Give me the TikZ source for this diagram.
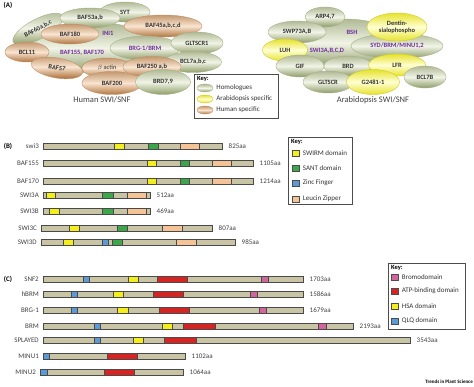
\documentclass[tikz,border=0pt]{standalone}
\usepackage{fontspec}
\setmainfont{Carlito}
\usepackage{xcolor}
\usepackage{tikz}
\usetikzlibrary{positioning,shapes.geometric}

\definecolor{homdark}{HTML}{8E9C68}
\definecolor{homlight}{HTML}{F1F4E6}
\definecolor{humdark}{HTML}{B07640}
\definecolor{humlight}{HTML}{F9E4D0}
\definecolor{athdark}{HTML}{E6E22C}
\definecolor{athlight}{HTML}{FFFFD4}
\definecolor{barfill}{HTML}{C9C4A4}
\definecolor{barline}{HTML}{4A4A4A}
\definecolor{swirm}{HTML}{F4EF1B}
\definecolor{sant}{HTML}{3BA64A}
\definecolor{zinc}{HTML}{5B9BD5}
\definecolor{leucin}{HTML}{F5C396}
\definecolor{bromo}{HTML}{D2649F}
\definecolor{atp}{HTML}{D42424}
\definecolor{subunit}{HTML}{7030A0}

\begin{document}
\begin{tikzpicture}[
  x=1pt, y=-1pt, font=\fontsize{7}{8}\selectfont,
  sub/.style={ellipse, inner sep=0pt, font=\fontsize{6.5}{7}\selectfont\bfseries, text=black!80},
  hom/.style={sub, draw=homdark!80, top color=homdark!70, bottom color=homdark, middle color=homlight},
  hum/.style={sub, draw=humdark!80, top color=humdark!75, bottom color=humdark, middle color=humlight},
  ath/.style={sub, draw=athdark!90!black, top color=athdark, bottom color=athdark, middle color=athlight},
  purp/.style={font=\fontsize{6.5}{7}\selectfont\bfseries, text=subunit},
  panel/.style={font=\fontsize{7}{8}\selectfont\bfseries},
  title/.style={font=\fontsize{8.5}{9}\selectfont, text=black!75},
  bar/.style={draw=barline, fill=barfill, line width=.5pt, anchor=west, inner sep=0pt, minimum height=6pt},
  dom/.style={draw=barline, line width=.5pt, anchor=west, inner sep=0pt, minimum height=6pt},
  lbl/.style={text=black!75, inner sep=0pt},
  keybox/.style={draw=black!70, line width=.5pt, anchor=north west, inner sep=0pt},
  keyhd/.style={font=\fontsize{6.5}{7}\selectfont\bfseries, inner sep=0pt},
  keytxt/.style={text=black!80, inner sep=0pt},
  swatch/.style={draw=black!70, line width=.4pt, inner sep=0pt, minimum width=7pt, minimum height=5.5pt}
]
\useasboundingbox (0,0) rectangle (474,386);

% (A) human complex
\node[panel] (pA) at (8,5) {(A)};
\node[hom, minimum width=125, minimum height=50] (hbg) at (97,48) {};
\node[hom, minimum width=56, minimum height=20, rotate=28] (baf60) at (38,29) {BAF60a,b,c};
\node[hom, minimum width=50, minimum height=20] (syt) at (125,12) {SYT};
\node[hom, minimum width=60, minimum height=20] (baf53) at (90,18) {BAF53a,b};
\node[hum, minimum width=58, minimum height=20] (baf180) at (70,34) {BAF180};
\node[hum, minimum width=44, minimum height=20] (bcl11) at (27,52) {BCL11};
\node[hum, minimum width=78, minimum height=22] (baf45) at (163,26) {BAF45a,b,c,d};
\node[hom, minimum width=70, minimum height=24, text=subunit] (brg1) at (145,48) {BRG-1/BRM};
\node[hom, minimum width=52, minimum height=22] (gltscr1) at (197,43) {GLTSCR1};
\node[hom, minimum width=57, minimum height=21] (bcl7) at (193,62) {BCL7a,b,c};
\node[hum, minimum width=52, minimum height=20, rotate=-10] (baf57) at (57,68) {BAF57};
\node[hum, minimum width=50, minimum height=20, font=\fontsize{6.5}{7}\selectfont] (actin) at (107,68) {$\beta$ actin};
\node[hum, minimum width=58, minimum height=21] (baf250) at (152,67) {BAF250 a,b};
\node[hum, minimum width=60, minimum height=23] (baf200) at (112,83) {BAF200};
\node[hom, minimum width=55, minimum height=25] (brd79) at (163,82) {BRD7,9};
\node[purp] (ini1) at (108,33) {INI1};
\node[purp] (baf155t) at (82,53) {BAF155, BAF170};
\node[title] (hT) at (102,100) {Human SWI/SNF};

% key for (A)
\node[keybox, minimum width=84, minimum height=44] (keyA) at (194,74) {};
\node[keyhd, below right=2pt and 3pt of keyA.north west] (kAh) {Key:};
\node[hom, minimum width=16, minimum height=8] (ka1) at (205,88) {};
\node[ath, minimum width=16, minimum height=8] (ka2) at (205,99) {};
\node[hum, minimum width=16, minimum height=8] (ka3) at (205,110) {};
\node[keytxt, right=3pt of ka1] (ka1t) {Homologues};
\node[keytxt, right=3pt of ka2] (ka2t) {Arabidopsis specific};
\node[keytxt, right=3pt of ka3] (ka3t) {Human specific};

% (A) Arabidopsis complex
\node[hom, minimum width=110, minimum height=48] (abg) at (345,43) {};
\node[hom, minimum width=40, minimum height=20] (arp) at (325,17) {ARP4,7};
\node[hom, minimum width=58, minimum height=22] (swp73) at (297,32) {SWP73A,B};
\node[hom, minimum width=92, minimum height=25, text=subunit] (syd) at (397,46) {SYD/BRM/MINU1,2};
\node[ath, minimum width=60, minimum height=28, align=center] (dentin) at (397,27) {Dentin-\\sialophospho};
\node[ath, minimum width=45, minimum height=22] (luh) at (285,50) {LUH};
\node[hom, minimum width=48, minimum height=22] (gif) at (300,66) {GIF};
\node[hom, minimum width=48, minimum height=20] (brd) at (348,66) {BRD};
\node[ath, minimum width=57, minimum height=22] (lfr) at (397,65) {LFR};
\node[hom, minimum width=42, minimum height=22] (bcl7b) at (425,77) {BCL7B};
\node[hom, minimum width=50, minimum height=22] (gltscr) at (328,82) {GLTSCR};
\node[ath, minimum width=53, minimum height=25] (g2481) at (373,82) {G2481-1};
\node[purp] (bsh) at (352,32) {BSH};
\node[purp] (swi3t) at (327,51) {SWI3A,B,C,D};
\node[title] (aT) at (373,100) {Arabidopsis SWI/SNF};

% (B) SWI3 proteins
\node[panel] (pB) at (8,146) {(B)};
\foreach \nm/\xa/\xb/\y/\txt/\aa in {b1/43/222/146/swi3/825aa, b2/43/253/163/BAF155/1105aa,
    b3/43/253/181/BAF170/1214aa, b4/43/150/195/SWI3A/512aa, b5/43/150/211/SWI3B/469aa,
    b6/41/212/228/SWI3C/807aa, b7/41/235/242/SWI3D/985aa} {
  \node[bar, minimum width={\xb-\xa}] (\nm) at (\xa,\y) {};
  \node[lbl, left=4pt of \nm] (\nm-l) {\txt};
  \node[lbl, right=6pt of \nm] (\nm-r) {\aa};
}
\foreach \xa/\xb/\y/\c [count=\i] in {114/124/146/swirm, 148/158/146/sant, 180/199/146/leucin,
    147/156/163/swirm, 180/189/163/sant, 212/231/163/leucin,
    147/156/181/swirm, 180/189/181/sant, 212/231/181/leucin,
    46/55/195/swirm, 102/113/195/sant, 127/146/195/leucin,
    49/59/211/swirm, 102/113/211/sant, 127/146/211/leucin,
    69/79/228/swirm, 117/127/228/sant, 162/182/228/leucin,
    63/73/242/swirm, 102/108/242/zinc, 112/122/242/sant, 176/196/242/leucin}
  \node[dom, fill=\c, minimum width={\xb-\xa}] (db\i) at (\xa,\y) {};

\node[keybox, minimum width=64, minimum height=67] (keyB) at (288,137) {};
\node[keyhd, below right=2pt and 3pt of keyB.north west] (kBh) {Key:};
\foreach \c/\t/\y [count=\i] in {swirm/SWIRM domain/153, sant/SANT domain/168,
    zinc/Zinc Finger/183, leucin/Leucin Zipper/199} {
  \node[swatch, fill=\c] (kb\i) at (296,\y) {};
  \node[keytxt, right=3pt of kb\i] (kb\i t) {\t};
}

% (C) SNF2 ATPases
\node[panel] (pC) at (8,279) {(C)};
\foreach \nm/\xa/\xb/\y/\txt/\aa in {c1/43/303/279/SNF2/1703aa, c2/43/303/294/hBRM/1586aa,
    c3/43/303/310/BRG-1/1679aa, c4/43/353/326/BRM/2193aa, c5/43/410/340/SPLAYED/3543aa,
    c6/43/185/356/MINU1/1102aa, c7/40/183/372/MINU2/1064aa} {
  \node[bar, minimum width={\xb-\xa}] (\nm) at (\xa,\y) {};
  \node[lbl, left=4pt of \nm] (\nm-l) {\txt};
  \node[lbl, right=6pt of \nm] (\nm-r) {\aa};
}
\foreach \xa/\xb/\y/\c [count=\i] in {83/89/279/zinc, 128/138/279/swirm, 157/187/279/atp, 261/268/279/bromo,
    71/77/294/zinc, 113/123/294/swirm, 153/183/294/atp, 250/257/294/bromo,
    71/77/310/zinc, 117/128/310/swirm, 159/189/310/atp, 259/266/310/bromo,
    94/100/326/zinc, 162/172/326/swirm, 183/215/326/atp, 318/326/326/bromo,
    94/100/340/zinc, 133/143/340/swirm, 164/196/340/atp,
    43/49/356/zinc, 107/137/356/atp, 40/47/372/zinc, 104/134/372/atp}
  \node[dom, fill=\c, minimum width={\xb-\xa}] (dc\i) at (\xa,\y) {};

\node[keybox, minimum width=77, minimum height=66] (keyC) at (388,263) {};
\node[keyhd, below right=2pt and 3pt of keyC.north west] (kCh) {Key:};
\foreach \c/\t/\y [count=\i] in {bromo/Bromodomain/277, atp/ATP-binding domain/291,
    swirm/HSA domain/306, zinc/QLQ domain/321} {
  \node[swatch, fill=\c] (kc\i) at (395,\y) {};
  \node[keytxt, right=3pt of kc\i] (kc\i t) {\t};
}

\node[font=\fontsize{5}{5}\selectfont\bfseries, anchor=east, inner sep=0pt] (src) at (473,382) {Trends in Plant Science};
\end{tikzpicture}
\end{document}
